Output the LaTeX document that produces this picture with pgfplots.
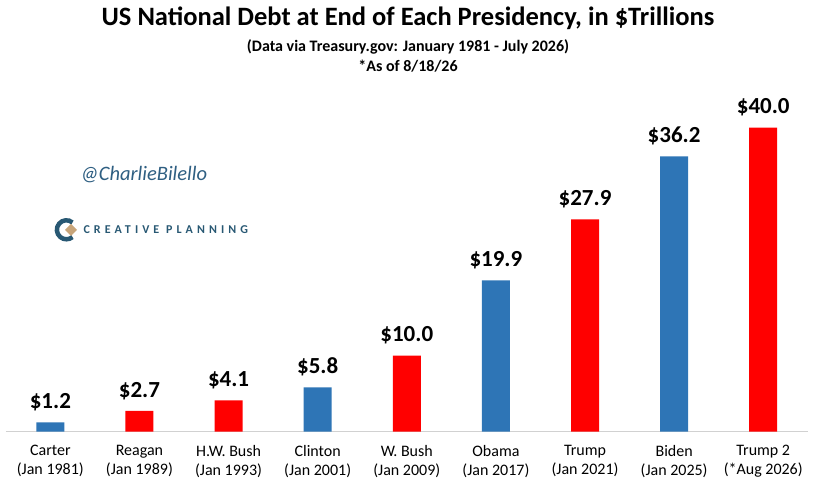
\documentclass[border=0pt]{standalone}
\usepackage{fontspec}
\setmainfont{Carlito}
\usepackage{pgfplots}
\pgfplotsset{compat=1.18}
\definecolor{dblue}{RGB}{46,117,182}
\definecolor{dred}{RGB}{255,0,0}
\definecolor{cpteal}{RGB}{40,88,115}
\definecolor{cptan}{RGB}{200,165,122}
\definecolor{handle}{RGB}{47,95,130}
\begin{document}
\begin{tikzpicture}[x=1pt,y=1pt]
\path[use as bounding box] (0,0) rectangle (816,487);
\begin{axis}[
  at={(6.5,73)}, anchor=south west,
  scale only axis, width=802pt, height=304pt,
  xmin=-0.5, xmax=8.5, ymin=0, ymax=40,
  hide y axis,
  axis x line=bottom,
  x axis line style={-, draw=black!18, line width=1.5pt},
  xtick={0,1,2,3,4,5,6,7,8},
  xticklabels={{Carter\\(Jan 1981)},{Reagan\\(Jan 1989)},{H.W. Bush\\(Jan 1993)},{Clinton\\(Jan 2001)},{W. Bush\\(Jan 2009)},{Obama\\(Jan 2017)},{Trump\\(Jan 2021)},{Biden\\(Jan 2025)},{Trump 2\\(*Aug 2026)}},
  xticklabel style={align=center, font=\fontsize{16}{19}\selectfont, yshift=-10pt},
  major tick length=0pt,
  ybar, bar width=28pt, bar shift=0pt,
  clip=false,
  /pgf/number format/assume math mode=true,
  nodes near coords={\$\pgfmathprintnumber[fixed,precision=1,fixed zerofill,assume math mode=true]{\pgfplotspointmeta}},
  every node near coord/.append style={font=\bfseries\fontsize{23}{26}\selectfont, text=black, yshift=8pt},
]
\addplot[draw=none, fill=dblue] coordinates {(0,1.2) (3,5.8) (5,19.9) (7,36.2)};
\addplot[draw=none, fill=dred] coordinates {(1,2.7) (2,4.1) (4,10.0) (6,27.9) (8,40.0)};
\end{axis}
\node[font=\bfseries\fontsize{26.5}{30}\selectfont] at (408,469) {US National Debt at End of Each Presidency, in \$Trillions};
\node[font=\bfseries\fontsize{16}{19}\selectfont] at (408,440) {(Data via Treasury.gov: January 1981 - July 2026)};
\node[font=\bfseries\fontsize{16}{19}\selectfont] at (408,421) {*As of 8/18/26};
\node[font=\itshape\fontsize{20.5}{24}\selectfont, text=handle, anchor=west] at (77,312) {@CharlieBilello};
% logo
\draw[cpteal, line width=4.5pt] (72.5,264.5) arc (50:310:9.5);
\fill[cptan] (65,257) -- (71,263) -- (77,257) -- (71,251) -- cycle;
\node[font=\bfseries\fontsize{12}{14}\selectfont\addfontfeatures{LetterSpace=34}, text=cpteal, anchor=west] at (80,257) {CREATIVE PLANNING};
\end{tikzpicture}
\end{document}
